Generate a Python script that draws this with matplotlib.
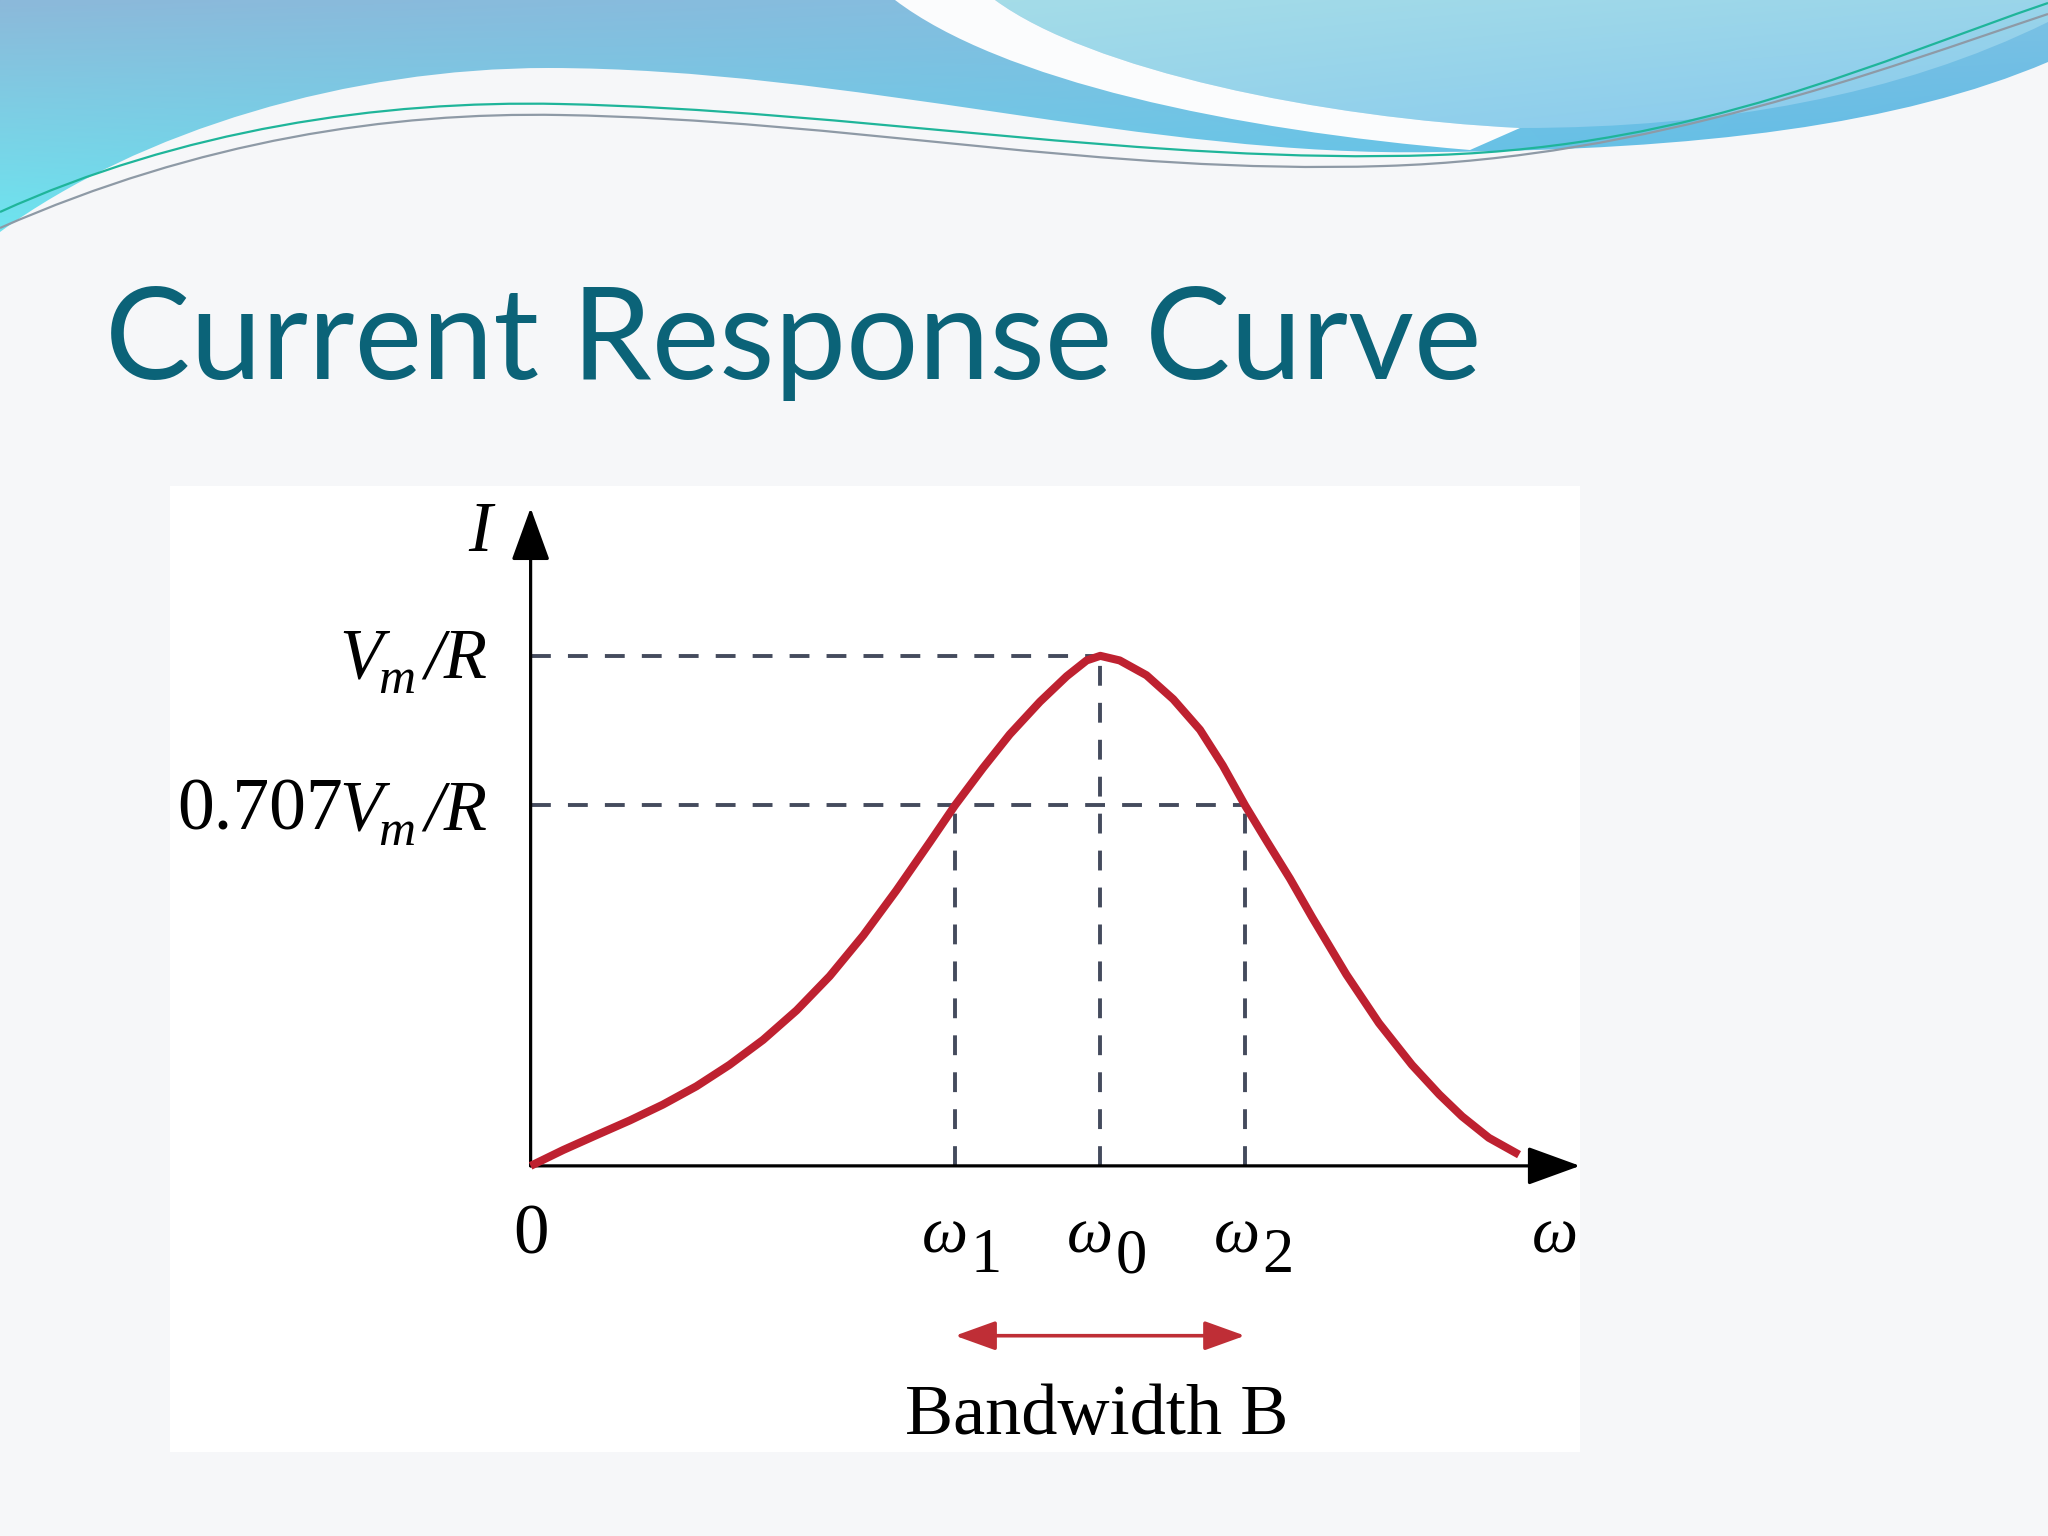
import numpy as np
import matplotlib
matplotlib.use("Agg")
import matplotlib.pyplot as plt
from matplotlib.path import Path
from matplotlib.patches import PathPatch
from matplotlib.colors import to_rgb

# --- data: current response (omega / omega0, I / (Vm/R))
omega = [0.0, 0.057, 0.115, 0.174, 0.232, 0.291, 0.349, 0.408, 0.467, 0.525,
         0.584, 0.642, 0.701, 0.745, 0.794, 0.841, 0.894, 0.941, 0.976, 1.0,
         1.034, 1.081, 1.128, 1.175, 1.215, 1.254, 1.292, 1.333, 1.372, 1.432,
         1.489, 1.547, 1.595, 1.635, 1.682, 1.735]
current = [0.0, 0.031, 0.060, 0.089, 0.120, 0.156, 0.198, 0.247, 0.305, 0.372,
           0.452, 0.540, 0.635, 0.707, 0.780, 0.846, 0.910, 0.960, 0.991, 1.0,
           0.991, 0.962, 0.915, 0.855, 0.785, 0.707, 0.637, 0.563, 0.487, 0.375,
           0.280, 0.198, 0.140, 0.097, 0.055, 0.022]

w1, w0, w2 = 0.745, 1.0, 1.254
peak = 1.0
half_power = 0.707
x_subs = ['1', '0', '2']

W, H = 2048, 1536
fig = plt.figure(figsize=(W / 100, H / 100), dpi=100)
fig.patch.set_facecolor('#F6F7F9')

# --- slide background decoration (pixel coords)
bg = fig.add_axes([0, 0, 1, 1], zorder=0)
bg.set_xlim(0, W)
bg.set_ylim(H, 0)
bg.axis('off')


def bez_path(start, segs, close=True):
    verts = [start]
    codes = [Path.MOVETO]
    for s in segs:
        if len(s) == 3:
            verts += list(s)
            codes += [Path.CURVE4] * 3
        else:
            verts.append(s[0])
            codes.append(Path.LINETO)
    if close:
        verts.append(start)
        codes.append(Path.CLOSEPOLY)
    return Path(verts, codes)


def gradient_fill(path, c_tl, c_bl, c_tr, c_br, ymax):
    patch = PathPatch(path, facecolor='none', edgecolor='none')
    bg.add_patch(patch)
    nx, ny = 200, 60
    tx = np.linspace(0, 1, nx)[None, :, None]
    ty = np.linspace(0, 1, ny)[:, None, None]
    tl, bl, tr, br = [np.array(to_rgb(c)) for c in (c_tl, c_bl, c_tr, c_br)]
    img = (1 - tx) * ((1 - ty) * tl + ty * bl) + tx * ((1 - ty) * tr + ty * br)
    im = bg.imshow(img, extent=(0, W, ymax, 0), origin='upper',
                   interpolation='bilinear', aspect='auto')
    im.set_clip_path(patch)


# big blue wave
wave_a = bez_path((0, 0), [
    [(W, 0)],
    [(W, 62)],
    ((1900, 125), (1700, 150), (1436, 152)),
    ((1150, 158), (850, 68), (548, 68)),
    ((350, 68), (140, 130), (0, 232)),
])
gradient_fill(wave_a, '#8CB9DA', '#6CE6F0', '#7DC2E4', '#52B6E6', 240)

# white stripe
stripe = bez_path((895, 0), [
    [(995, 0)],
    ((1090, 70), (1320, 118), (1520, 128)),
    [(1470, 150)],
    ((1230, 130), (1000, 80), (895, 0)),
])
bg.add_patch(PathPatch(stripe, facecolor='#FBFCFD', edgecolor='none'))

# pale aqua shape, top right
wave_b = bez_path((995, 0), [
    [(W, 0)],
    [(W, 22)],
    ((1900, 95), (1720, 128), (1520, 128)),
    ((1320, 118), (1090, 70), (995, 0)),
])
gradient_fill(wave_b, '#AEE3E6', '#A2DDE8', '#9AD5EA', '#86C8EE', 140)

# thin swooshes
line1 = bez_path((0, 212), [
    ((180, 130), (380, 100), (560, 104)),
    ((850, 110), (1150, 165), (1436, 155)),
    ((1700, 146), (1880, 60), (W, 3)),
], close=False)
line2 = bez_path((0, 228), [
    ((200, 140), (390, 112), (560, 115)),
    ((850, 120), (1100, 175), (1384, 166)),
    ((1650, 158), (1880, 70), (W, 14)),
], close=False)
bg.add_patch(PathPatch(line1, facecolor='none', edgecolor='#1FB59A', lw=1.6))
bg.add_patch(PathPatch(line2, facecolor='none', edgecolor='#8E9AA6', lw=1.6))

# title
fig.text(105 / W, 1 - 379 / H, 'Current Response Curve', fontsize=92,
         family='Lato', color='#0B6378', ha='left', va='baseline')

# --- the chart panel
ax = fig.add_axes([170 / W, 1 - 1452 / H, 1410 / W, 966 / H], zorder=2)
ax.set_facecolor('white')
ax.set_xlim(-0.633, 1.842)
ax.set_ylim(-0.561, 1.333)
for s in ax.spines.values():
    s.set_visible(False)
ax.set_xticks([])
ax.set_yticks([])

serif = 'Liberation Serif'
fs = 51
ital = dict(family=serif, style='italic', va='baseline')
upr = dict(family=serif, va='baseline')

# axes with arrows
ax.annotate('', xy=(0, 1.29), xytext=(0, 0),
            arrowprops=dict(arrowstyle='-|>,head_length=0.55,head_width=0.2',
                            mutation_scale=60, lw=2.3, color='black',
                            shrinkA=0, shrinkB=0))
ax.annotate('', xy=(1.842, 0), xytext=(0, 0),
            arrowprops=dict(arrowstyle='-|>,head_length=0.55,head_width=0.2',
                            mutation_scale=60, lw=2.3, color='black',
                            shrinkA=0, shrinkB=0))

# dashed guides
dash = dict(color='#444B5D', lw=2.8, linestyle=(0, (5.1, 4.4)), zorder=2)
ax.plot([0, w0], [peak, peak], **dash)
ax.plot([0, w2], [half_power, half_power], **dash)
ax.plot([w1, w1], [0, half_power], **dash)
ax.plot([w0, w0], [0, peak], **dash)
ax.plot([w2, w2], [0, half_power], **dash)

# response curve
ax.plot(omega, current, color='#BE2130', lw=5.8, solid_capstyle='butt',
        solid_joinstyle='round', zorder=3)

# y labels: V, subscript m, /R
for base in [0.958, 0.659]:
    ax.text(-0.260, base, 'V', fontsize=fs, ha='right', **ital)
    ax.text(-0.267, base - 0.030, 'm', fontsize=37, ha='left', **ital)
    ax.text(-0.077, base, '/R', fontsize=fs, ha='right', **ital)
ax.text(-0.330, 0.659, '0.707', fontsize=53, ha='right', **upr)

ax.text(-0.088, 1.206, 'I', fontsize=fs, ha='center', **ital)

# x labels
ax.text(0.0, -0.172, '0', fontsize=fs, ha='center', **upr)
for xpos, sub in zip([0.767, 1.022, 1.280], x_subs):
    ax.text(xpos, -0.170, 'ω', fontsize=47, ha='right', **ital)
    ax.text(xpos + 0.005, -0.209, sub, fontsize=45, ha='left', **upr)
ax.text(1.798, -0.170, 'ω', fontsize=47, ha='center', **ital)

# bandwidth arrow
ax.annotate('', xy=(w2, -0.333), xytext=(w1, -0.333),
            arrowprops=dict(arrowstyle='<|-|>,head_length=0.5,head_width=0.18',
                            mutation_scale=50, lw=2.6, color='#BF2E36',
                            shrinkA=0, shrinkB=0))
ax.text(0.993, -0.525, 'Bandwidth B', fontsize=52, ha='center', **upr)

fig.savefig('out.png', dpi=100, facecolor=fig.get_facecolor())
